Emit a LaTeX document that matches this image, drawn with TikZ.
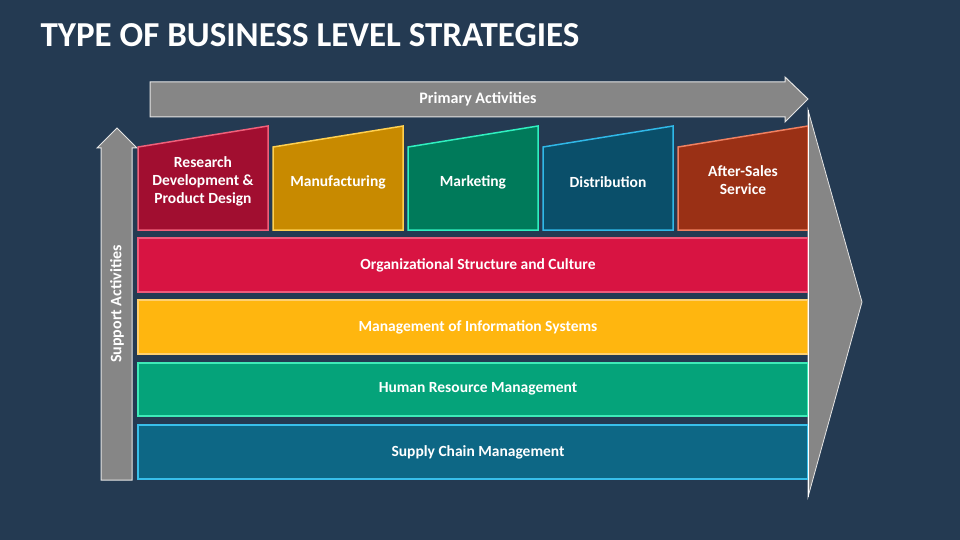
\documentclass[tikz,border=0pt]{standalone}
\usepackage{fontspec}
\setmainfont{Carlito}
\begin{document}
\begin{tikzpicture}[x=1pt,y=-1pt,
  lbl/.style={text=white,font=\bfseries\fontsize{15.5}{18}\selectfont,align=center},
  garrow/.style={fill=gray!95!white,draw=white!80!gray,line width=1pt},
  bar/.style={line width=1.5pt}]
\definecolor{bg}{HTML}{243A52}
\definecolor{fa}{HTML}{A10E30}\definecolor{ba}{HTML}{F0607A}
\definecolor{fb}{HTML}{C88A00}\definecolor{bb}{HTML}{FFD050}
\definecolor{fc}{HTML}{007A5A}\definecolor{bc}{HTML}{30F0C0}
\definecolor{fd}{HTML}{0A4F6A}\definecolor{bd}{HTML}{30B8E8}
\definecolor{fe}{HTML}{9A3015}\definecolor{be}{HTML}{F08060}
\definecolor{g1}{HTML}{D81442}\definecolor{h1}{HTML}{F05A7A}
\definecolor{g2}{HTML}{FFB60F}\definecolor{h2}{HTML}{FFD070}
\definecolor{g3}{HTML}{05A37A}\definecolor{h3}{HTML}{3EEAB8}
\definecolor{g4}{HTML}{0D6785}\definecolor{h4}{HTML}{38BFEA}
\fill[bg] (0,0) rectangle (960,540);
\useasboundingbox (0,0) rectangle (960,540);
\node[anchor=west,text=white,font=\bfseries\fontsize{35}{38}\selectfont] (title) at (37,35) {TYPE OF BUSINESS LEVEL STRATEGIES};
% top arrow
\draw[garrow] (150,82) -- (785,82) -- (785,77) -- (808,99) -- (785,122) -- (785,117) -- (150,117) -- cycle;
\node[lbl,font=\bfseries\fontsize{16}{18}\selectfont] (pa) at (478,99) {Primary Activities};
% up arrow
\draw[garrow] (101,480) -- (101,148) -- (97,148) -- (117,128) -- (137,148) -- (132,148) -- (132,480) -- cycle;
\node[lbl,font=\bfseries\fontsize{16}{18}\selectfont,rotate=90] (sa) at (117,304) {Support Activities};
% chevron
\draw[garrow,line width=0.8pt] (808,110) -- (862,302) -- (808,497) -- cycle;
% primary boxes
\foreach \x/\f/\b in {138/fa/ba,273/fb/bb,408/fc/bc,543/fd/bd,678/fe/be}{
  \draw[fill=\f,draw=\b,bar] (\x,230) -- (\x,147) -- (\x+130,126) -- (\x+130,230) -- cycle;}
\node[lbl] (p1) at (203,181) {Research\\Development \&\\Product Design};
\node[lbl] (p2) at (338,182) {Manufacturing};
\node[lbl] (p3) at (473,182) {Marketing};
\node[lbl] (p4) at (608,182) {Distribution};
\node[lbl] (p5) at (743,180) {After-Sales\\Service};
% bars
\draw[fill=g1,draw=h1,bar] (138,238) rectangle (808,292);
\draw[fill=g2,draw=h2,bar] (138,300) rectangle (808,354);
\draw[fill=g3,draw=h3,bar] (138,363) rectangle (808,416);
\draw[fill=g4,draw=h4,bar] (138,425) rectangle (808,479);
\node[lbl] (s1) at (478,265) {Organizational Structure and Culture};
\node[lbl] (s2) at (478,327) {Management of Information Systems};
\node[lbl] (s3) at (478,389) {Human Resource Management};
\node[lbl] (s4) at (478,452) {Supply Chain Management};
\draw[white,line width=0.8pt] (808,110) -- (808,497);
\end{tikzpicture}
\end{document}
